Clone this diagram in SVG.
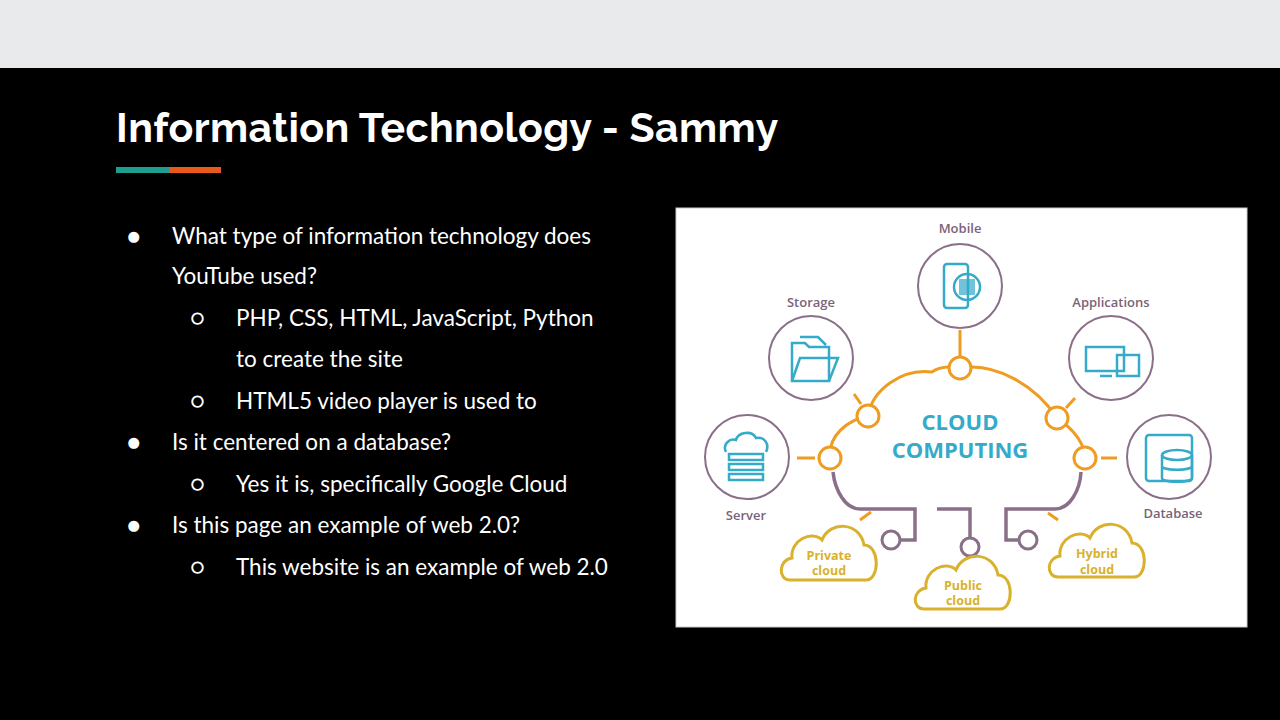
<svg xmlns="http://www.w3.org/2000/svg" width="1280" height="720" viewBox="0 0 1280 720">
<style>
.t{font-family:Lato,"Liberation Sans",sans-serif;fill:#fff;font-size:22.5px}
.lbl{font-family:"Open Sans","Liberation Sans",sans-serif;font-size:13px;font-weight:600;fill:#7a6378;text-anchor:middle}
.ring{fill:#fff;stroke:#8a6f89;stroke-width:2}
.ic{fill:none;stroke:#35aac9;stroke-width:2.5}
.or{fill:none;stroke:#ee9c22;stroke-width:3}
.dot{fill:#fff;stroke:#ee9c22;stroke-width:3}
.pu{fill:none;stroke:#8a6f89;stroke-width:3.5}
.pdot{fill:#fff;stroke:#8a6f89;stroke-width:3}
.yc{fill:#fff;stroke:#d9b12c;stroke-width:3}
.yt{font-family:"Open Sans","Liberation Sans",sans-serif;font-size:12.5px;font-weight:700;fill:#d9b12c;text-anchor:middle}
</style>
<rect width="1280" height="720" fill="#000"/>
<rect width="1280" height="68" fill="#e8eaeb"/>
<text x="116" y="142" font-family="Raleway,'Open Sans','Liberation Sans',sans-serif" font-weight="700" font-size="41" letter-spacing="0.4" fill="#fff">Information Technology - Sammy</text>
<rect x="116" y="167" width="53" height="6" fill="#1e9e8f"/>
<rect x="169" y="167" width="52" height="6" fill="#e8591a"/>
<g class="t">
<text x="127" y="244">●</text><text x="172" y="244">What type of information technology does</text>
<text x="172" y="284">YouTube used?</text>
<text x="190" y="326">○</text><text x="236" y="326">PHP, CSS, HTML, JavaScript, Python</text>
<text x="236" y="367">to create the site</text>
<text x="190" y="409">○</text><text x="236" y="409">HTML5 video player is used to</text>
<text x="127" y="450">●</text><text x="172" y="450">Is it centered on a database?</text>
<text x="190" y="492">○</text><text x="236" y="492">Yes it is, specifically Google Cloud</text>
<text x="127" y="533">●</text><text x="172" y="533">Is this page an example of web 2.0?</text>
<text x="190" y="575">○</text><text x="236" y="575">This website is an example of web 2.0</text>
</g>
<g id="image">
<rect x="676" y="208" width="571" height="419" fill="#fff" stroke="#ccc"/>
<g id="connectors">
<path class="or" d="M960 330V357 M854 394L861 404 M1075 398L1066 408 M797 458H815 M1101 458H1117 M860 520L871 512 M970 560V572 M1058 520L1048 513"/>
<path class="or" d="M830 458C828 435 848 420 868 416C872 390 902 368 932 372C940 366 955 366 960 368C995 362 1035 385 1057 418C1075 430 1085 445 1085 458"/>
<path class="pu" d="M833 472C835 490 845 509 860 509H915V540H900 M937 509H970V538 M1081 472C1080 490 1070 509 1055 509H1006V540H1019"/>
</g>
<g id="nodes">
<circle class="dot" cx="960" cy="368" r="11"/><circle class="dot" cx="868" cy="416" r="11"/><circle class="dot" cx="1057" cy="418" r="11"/><circle class="dot" cx="830" cy="458" r="11"/><circle class="dot" cx="1085" cy="458" r="11"/>
<circle class="pdot" cx="891" cy="540" r="9"/><circle class="pdot" cx="970" cy="547" r="9"/><circle class="pdot" cx="1028" cy="540" r="9"/>
<text x="960" y="430" font-family="'Open Sans','Liberation Sans',sans-serif" font-weight="700" font-size="22" fill="#35aac9" text-anchor="middle">CLOUD</text>
<text x="960" y="458" font-family="'Open Sans','Liberation Sans',sans-serif" font-weight="700" font-size="22" fill="#35aac9" text-anchor="middle">COMPUTING</text>
<g id="mobile"><circle class="ring" cx="960" cy="286" r="42"/><rect class="ic" x="944" y="264" width="24" height="44" rx="3"/><circle class="ic" cx="967" cy="287" r="13" fill="#fff"/><rect x="959" y="279" width="16" height="16" fill="#35aac9" opacity=".7"/><text class="lbl" x="960" y="233">Mobile</text></g>
<g id="storage"><circle class="ring" cx="811" cy="358" r="42"/><path class="ic" d="M792 343H805L809 347H829V381H792Z M800 337H818L826 345"/><path class="ic" d="M792 381L800 358H838L829 381"/><text class="lbl" x="811" y="307">Storage</text></g>
<g id="applications"><circle class="ring" cx="1111" cy="358" r="42"/><rect class="ic" x="1086" y="347" width="38" height="24"/><path class="ic" d="M1100 376H1112"/><rect class="ic" x="1117" y="355" width="22" height="21"/><text class="lbl" x="1111" y="307">Applications</text></g>
<g id="server"><circle class="ring" cx="747" cy="457" r="42"/><path class="ic" d="M726 452C722 444 730 438 736 440C738 432 752 430 756 438C764 436 770 444 766 452"/><rect class="ic" x="729" y="454" width="34" height="6"/><rect class="ic" x="729" y="464" width="34" height="6"/><rect class="ic" x="729" y="474" width="34" height="6"/><text class="lbl" x="746" y="520">Server</text></g>
<g id="database"><circle class="ring" cx="1169" cy="457" r="42"/><rect class="ic" x="1146" y="435" width="46" height="46" rx="3"/><ellipse class="ic" cx="1177" cy="455" rx="15" ry="5" fill="#fff"/><path class="ic" d="M1162 455V478C1162 483 1192 483 1192 478V455 M1162 466C1162 471 1192 471 1192 466"/><text class="lbl" x="1173" y="518">Database</text></g>
<g id="private"><path class="yc" d="M790 580C778 580 778 560 792 558C790 540 812 530 822 540C830 520 860 522 864 545C880 545 880 580 866 580Z"/><text class="yt" x="829" y="560">Private</text><text class="yt" x="829" y="575">cloud</text></g>
<g id="public"><path class="yc" d="M924 609C912 609 912 590 926 588C924 570 946 560 956 570C964 550 994 552 998 575C1014 575 1014 609 1000 609Z"/><text class="yt" x="963" y="590">Public</text><text class="yt" x="963" y="605">cloud</text></g>
<g id="hybrid"><path class="yc" d="M1058 577C1046 577 1046 558 1060 556C1058 538 1080 528 1090 538C1098 518 1128 520 1132 543C1148 543 1148 577 1134 577Z"/><text class="yt" x="1097" y="558">Hybrid</text><text class="yt" x="1097" y="574">cloud</text></g>
</g>
</g>
</svg>
